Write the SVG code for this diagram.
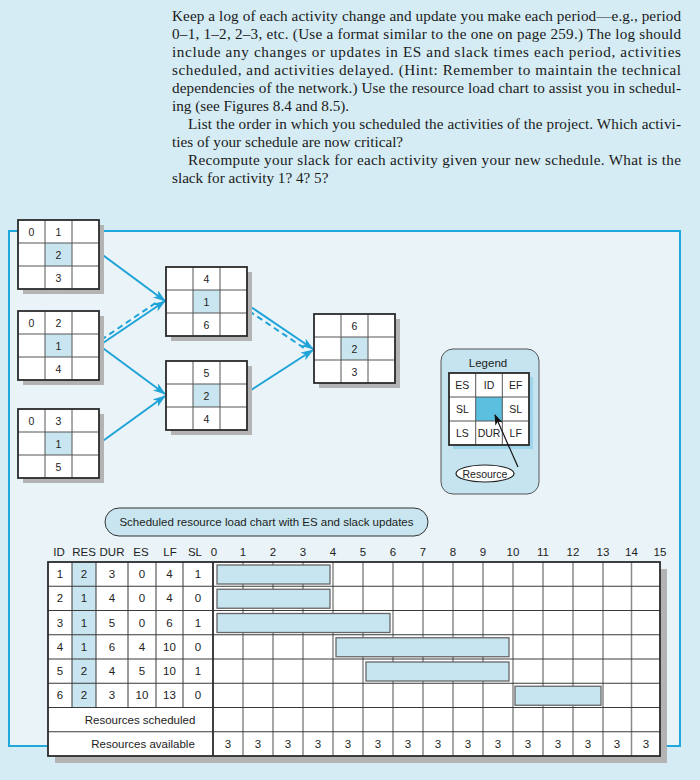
<svg xmlns="http://www.w3.org/2000/svg" width="700" height="780" viewBox="0 0 700 780">
<defs>
<style>
.prose{font-family:"Liberation Serif","Times New Roman",serif;font-size:15.2px;fill:#1a1a1a}
.s{font-family:"Liberation Sans",Arial,sans-serif;font-size:11.5px;fill:#222;text-anchor:middle}
.sl{font-family:"Liberation Sans",Arial,sans-serif;font-size:10.5px;fill:#222;text-anchor:middle}
.shadow{fill:#b3b3b3}
.cell{fill:#fff}
.hl{fill:#c9e6f0}
.inner{stroke:#555;stroke-width:1;fill:none}
.outer{stroke:#2b2b2b;stroke-width:1.8;fill:none}
.arr{stroke:#1fa3d8;stroke-width:2;fill:none}
.dash{stroke:#1fa3d8;stroke-width:2;fill:none;stroke-dasharray:6 4}
.tgrid{stroke:#8a8a8a;stroke-width:1.5}
.hgrid{stroke:#3a3a3a;stroke-width:1}
.bar{fill:#c6e5f0;stroke:#666;stroke-width:1.3}
</style>
<marker id="ah" markerUnits="userSpaceOnUse" markerWidth="13" markerHeight="9" refX="12" refY="4.5" orient="auto">
<path d="M0,0 L13,4.5 L0,9 L3.5,4.5 z" fill="#1fa3d8"/>
</marker>
<marker id="ahk" markerUnits="userSpaceOnUse" markerWidth="11" markerHeight="8" refX="10" refY="4" orient="auto">
<path d="M0,0 L11,4 L0,8 L3,4 z" fill="#111"/>
</marker>
<g id="nodebase">
<rect class="shadow" x="5" y="5" width="81" height="69"/>
<rect class="cell" x="0" y="0" width="81" height="69"/>
<rect class="hl" x="27" y="23" width="27" height="23"/>
<path class="inner" d="M27,0V69M54,0V69M0,23H81M0,46H81"/>
<rect class="outer" x="0" y="0" width="81" height="69"/>
</g>
</defs>

<rect x="0" y="0" width="700" height="780" fill="#d5ecf4"/>

<g id="prose">
<text class="prose" x="172" y="21" textLength="509" lengthAdjust="spacing">Keep a log of each activity change and update you make each period—e.g., period</text>
<text class="prose" x="172" y="39" textLength="509" lengthAdjust="spacing">0–1, 1–2, 2–3, etc. (Use a format similar to the one on page 259.) The log should</text>
<text class="prose" x="172" y="57" textLength="509" lengthAdjust="spacing">include any changes or updates in ES and slack times each period, activities</text>
<text class="prose" x="172" y="75" textLength="509" lengthAdjust="spacing">scheduled, and activities delayed. (Hint: Remember to maintain the technical</text>
<text class="prose" x="172" y="93" textLength="509" lengthAdjust="spacing">dependencies of the network.) Use the resource load chart to assist you in schedul-</text>
<text class="prose" x="172" y="111">ing (see Figures 8.4 and 8.5).</text>
<text class="prose" x="188" y="129" textLength="493" lengthAdjust="spacing">List the order in which you scheduled the activities of the project. Which activi-</text>
<text class="prose" x="172" y="147">ties of your schedule are now critical?</text>
<text class="prose" x="188" y="165" textLength="493" lengthAdjust="spacing">Recompute your slack for each activity given your new schedule. What is the</text>
<text class="prose" x="172" y="183">slack for activity 1? 4? 5?</text>
</g>

<rect id="panel" x="9" y="231" width="671" height="515" fill="#eaf4f8" stroke="#1fa8dc" stroke-width="2"/>

<g id="connectors">
<line class="arr" x1="100" y1="253" x2="165" y2="301" marker-end="url(#ah)"/>
<line class="arr" x1="100" y1="345" x2="165" y2="301" marker-end="url(#ah)"/>
<line class="dash" x1="101" y1="340" x2="157" y2="302"/>
<line class="arr" x1="100" y1="346" x2="165" y2="394" marker-end="url(#ah)"/>
<line class="arr" x1="100" y1="443" x2="165" y2="396" marker-end="url(#ah)"/>
<line class="arr" x1="248" y1="305" x2="313" y2="349" marker-end="url(#ah)"/>
<line class="dash" x1="249" y1="311" x2="304" y2="348"/>
<line class="arr" x1="248" y1="392" x2="313" y2="350" marker-end="url(#ah)"/>
</g>

<g id="node1" transform="translate(18,220)">
<use href="#nodebase"/>
<text class="sl" x="13.5" y="15.5">0</text><text class="sl" x="40.5" y="15.5">1</text>
<text class="sl" x="40.5" y="38.5">2</text><text class="sl" x="40.5" y="61.5">3</text>
</g>
<g id="node2" transform="translate(18,311)">
<use href="#nodebase"/>
<text class="sl" x="13.5" y="15.5">0</text><text class="sl" x="40.5" y="15.5">2</text>
<text class="sl" x="40.5" y="38.5">1</text><text class="sl" x="40.5" y="61.5">4</text>
</g>
<g id="node3" transform="translate(18,409)">
<use href="#nodebase"/>
<text class="sl" x="13.5" y="15.5">0</text><text class="sl" x="40.5" y="15.5">3</text>
<text class="sl" x="40.5" y="38.5">1</text><text class="sl" x="40.5" y="61.5">5</text>
</g>
<g id="node4" transform="translate(166,267)">
<use href="#nodebase"/>
<text class="sl" x="40.5" y="15.5">4</text>
<text class="sl" x="40.5" y="38.5">1</text><text class="sl" x="40.5" y="61.5">6</text>
</g>
<g id="node5" transform="translate(166,361)">
<use href="#nodebase"/>
<text class="sl" x="40.5" y="15.5">5</text>
<text class="sl" x="40.5" y="38.5">2</text><text class="sl" x="40.5" y="61.5">4</text>
</g>
<g id="node6" transform="translate(314,314)">
<use href="#nodebase"/>
<text class="sl" x="40.5" y="15.5">6</text>
<text class="sl" x="40.5" y="38.5">2</text><text class="sl" x="40.5" y="61.5">3</text>
</g>

<g id="legend">
<rect x="441" y="349" width="98" height="145" rx="12" fill="#c5e4ef" stroke="#555" stroke-width="1"/>
<text class="s" x="488" y="367">Legend</text>
<rect x="453" y="377" width="80" height="72" fill="#9fd5ea"/>
<rect x="449" y="373" width="80" height="72" fill="#fff"/>
<rect x="475.7" y="397" width="26.6" height="24" fill="#5bbfe0"/>
<path class="inner" d="M475.7,373V445M502.3,373V445M449,397H529M449,421H529"/>
<rect class="outer" x="449" y="373" width="80" height="72"/>
<text class="sl" x="462.3" y="389">ES</text><text class="sl" x="489" y="389">ID</text><text class="sl" x="515.7" y="389">EF</text>
<text class="sl" x="462.3" y="413">SL</text><text class="sl" x="515.7" y="413">SL</text>
<text class="sl" x="462.3" y="437">LS</text><text class="sl" x="489" y="437">DUR</text><text class="sl" x="515.7" y="437">LF</text>
<line x1="518" y1="467" x2="495" y2="415" stroke="#111" stroke-width="1.2" marker-end="url(#ahk)"/>
<ellipse cx="485" cy="473.5" rx="29" ry="8.5" fill="#fff" stroke="#222" stroke-width="1.2"/>
<text class="sl" x="485" y="477.5">Resource</text>
</g>

<g id="chart">
<rect x="105" y="508" width="323" height="28" rx="14" fill="#c9e6f0" stroke="#333" stroke-width="1"/>
<text class="s" x="266.5" y="526">Scheduled resource load chart with ES and slack updates</text>

<g id="header">
<text class="s" x="59" y="556">ID</text><text class="s" x="84" y="556">RES</text><text class="s" x="112" y="556">DUR</text>
<text class="s" x="141" y="556">ES</text><text class="s" x="170" y="556">LF</text><text class="s" x="195" y="556">SL</text>
<text class="s" x="214" y="556">0</text><text class="s" x="243" y="556">1</text><text class="s" x="273" y="556">2</text>
<text class="s" x="303" y="556">3</text><text class="s" x="333" y="556">4</text><text class="s" x="363" y="556">5</text>
<text class="s" x="393" y="556">6</text><text class="s" x="423" y="556">7</text><text class="s" x="453" y="556">8</text>
<text class="s" x="483" y="556">9</text><text class="s" x="513" y="556">10</text><text class="s" x="543" y="556">11</text>
<text class="s" x="573" y="556">12</text><text class="s" x="603" y="556">13</text><text class="s" x="631.5" y="556">14</text>
<text class="s" x="660" y="556">15</text>
</g>

<rect class="shadow" x="55" y="569" width="612" height="194"/>
<rect x="48" y="562" width="612" height="194" fill="#fff"/>
<rect class="hl" x="72" y="562" width="24" height="145.5"/>

<path class="tgrid" d="M243,562V756M273,562V756M303,562V756M333,562V756M363,562V756M393,562V756M423,562V756M453,562V756M483,562V756M513,562V756M543,562V756M573,562V756M603,562V756M631.5,562V756"/>
<path class="hgrid" d="M48,586.25H660M48,610.5H660M48,634.75H660M48,659H660M48,683.25H660M48,707.5H660M48,731.75H660"/>
<path class="hgrid" d="M72,562V707.5M96,562V707.5M128,562V707.5M156,562V707.5M183,562V707.5"/>
<line x1="213" y1="562" x2="213" y2="756" stroke="#2b2b2b" stroke-width="1.8"/>

<rect class="bar" x="217" y="565" width="113" height="19"/>
<rect class="bar" x="217" y="589.25" width="113" height="19"/>
<rect class="bar" x="217" y="613.5" width="173" height="19"/>
<rect class="bar" x="336" y="637.75" width="173" height="19"/>
<rect class="bar" x="366" y="662" width="143" height="19"/>
<rect class="bar" x="515" y="686.25" width="86" height="19"/>

<rect class="outer" x="48" y="562" width="612" height="194" stroke-width="2"/>

<g id="rows">
<text class="s" x="60" y="578">1</text><text class="s" x="84" y="578">2</text><text class="s" x="112" y="578">3</text><text class="s" x="142" y="578">0</text><text class="s" x="169.5" y="578">4</text><text class="s" x="198" y="578">1</text>
<text class="s" x="60" y="602.3">2</text><text class="s" x="84" y="602.3">1</text><text class="s" x="112" y="602.3">4</text><text class="s" x="142" y="602.3">0</text><text class="s" x="169.5" y="602.3">4</text><text class="s" x="198" y="602.3">0</text>
<text class="s" x="60" y="626.5">3</text><text class="s" x="84" y="626.5">1</text><text class="s" x="112" y="626.5">5</text><text class="s" x="142" y="626.5">0</text><text class="s" x="169.5" y="626.5">6</text><text class="s" x="198" y="626.5">1</text>
<text class="s" x="60" y="650.8">4</text><text class="s" x="84" y="650.8">1</text><text class="s" x="112" y="650.8">6</text><text class="s" x="142" y="650.8">4</text><text class="s" x="169.5" y="650.8">10</text><text class="s" x="198" y="650.8">0</text>
<text class="s" x="60" y="675">5</text><text class="s" x="84" y="675">2</text><text class="s" x="112" y="675">4</text><text class="s" x="142" y="675">5</text><text class="s" x="169.5" y="675">10</text><text class="s" x="198" y="675">1</text>
<text class="s" x="60" y="699.3">6</text><text class="s" x="84" y="699.3">2</text><text class="s" x="112" y="699.3">3</text><text class="s" x="142" y="699.3">10</text><text class="s" x="169.5" y="699.3">13</text><text class="s" x="198" y="699.3">0</text>
<text class="s" x="140" y="723.5">Resources scheduled</text>
<text class="s" x="143" y="748">Resources available</text>
<text class="s" x="228" y="748">3</text><text class="s" x="258" y="748">3</text><text class="s" x="288" y="748">3</text><text class="s" x="318" y="748">3</text><text class="s" x="348" y="748">3</text>
<text class="s" x="378" y="748">3</text><text class="s" x="408" y="748">3</text><text class="s" x="438" y="748">3</text><text class="s" x="468" y="748">3</text><text class="s" x="498" y="748">3</text>
<text class="s" x="528" y="748">3</text><text class="s" x="558" y="748">3</text><text class="s" x="588" y="748">3</text><text class="s" x="617" y="748">3</text><text class="s" x="646" y="748">3</text>
</g>
</g>
</svg>
